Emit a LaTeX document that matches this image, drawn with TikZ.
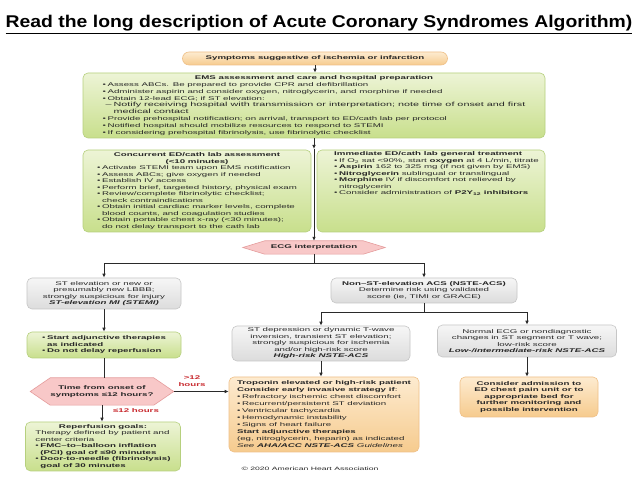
\documentclass[tikz,border=0pt]{standalone}
\usepackage{fontspec}
\setmainfont{Liberation Sans}[FakeStretch=1.8]
\newfontfamily\titlefont{Liberation Sans}[FakeStretch=1.14]
\usetikzlibrary{arrows.meta,calc,backgrounds}
\definecolor{grnT}{HTML}{EDF4D6}
\definecolor{grnB}{HTML}{C8DF8C}
\definecolor{grnD}{HTML}{B6D07E}
\definecolor{orgT}{HTML}{FDEBD0}
\definecolor{orgB}{HTML}{F6CB8E}
\definecolor{orgD}{HTML}{EFC088}
\definecolor{gryT}{HTML}{F6F6F6}
\definecolor{gryB}{HTML}{DCDCDC}
\definecolor{gryD}{HTML}{C6C6C6}
\definecolor{pnkF}{HTML}{F8C8C8}
\definecolor{pnkD}{HTML}{E59C9C}
\definecolor{redC}{HTML}{C8282D}
\definecolor{lnC}{HTML}{2A2A2A}
\definecolor{txtC}{HTML}{262626}
\newcommand\bl{\makebox[5pt][l]{\textbullet}}
\newcommand\mytab[1]{\begin{tabular}{@{}l@{}}#1\end{tabular}}
\newcommand\mycen[1]{\multicolumn{1}{@{}c@{}}{#1}}
\tikzset{
  box/.style={rounded corners=5pt, line width=0.6pt, inner sep=1pt, align=center},
  gbox/.style={box, draw=grnD, top color=grnT, bottom color=grnB},
  obox/.style={box, draw=orgD, top color=orgT, bottom color=orgB},
  gybox/.style={box, draw=gryD, top color=gryT, bottom color=gryB},
  hexs/.style={draw=pnkD, fill=pnkF, line width=0.6pt},
  arr/.style={draw=lnC, line width=0.8pt, -{Latex[length=4pt,width=3.6pt]}},
  ln/.style={draw=lnC, line width=0.8pt},
  redlab/.style={text=redC, align=center, inner sep=0pt, font=\fontsize{5.4}{6.5}\selectfont\bfseries}
}
\begin{document}
\begin{tikzpicture}[x=1pt,y=-1pt, every node/.style={font=\fontsize{5.4}{6.5}\selectfont, text=txtC}]
\useasboundingbox (0,0) rectangle (638,478);
\begin{scope}[on background layer]
\fill[white] (0,0) rectangle (638,478);
\end{scope}

\node[anchor=base, inner sep=0pt, text=black, font=\titlefont\bfseries\fontsize{17}{20}\selectfont] (title) at (319,28)
  {\underline{Read the long description of Acute Coronary Syndromes Algorithm)}};

\node[obox, rounded corners=6.5pt, minimum width=265pt, minimum height=13pt, inner sep=0pt] (sym) at (315,58.5)
  {\textbf{Symptoms suggestive of ischemia or infarction}};

\node[gbox, minimum width=462pt, minimum height=65pt, font=\fontsize{5.4}{6.8}\selectfont] (ems) at (314,105.5) {\mytab{%
\mycen{\textbf{EMS assessment and care and hospital preparation}}\\
\bl Assess ABCs. Be prepared to provide CPR and defibrillation\\
\bl Administer aspirin and consider oxygen, nitroglycerin, and morphine if needed\\
\bl Obtain 12-lead ECG; if ST elevation:\\
{\fontsize{6}{6.8}\selectfont\hspace*{3pt}\makebox[8pt][l]{--}Notify receiving hospital with transmission or interpretation; note time of onset and first}\\
{\fontsize{6}{6.8}\selectfont\hspace*{11pt}medical contact}\\
\bl Provide prehospital notification; on arrival, transport to ED/cath lab per protocol\\
\bl Notified hospital should mobilize resources to respond to STEMI\\
\bl If considering prehospital fibrinolysis, use fibrinolytic checklist}};

\node[gbox, minimum width=228pt, minimum height=82pt] (conc) at (197,191) {\mytab{%
\mycen{\textbf{Concurrent ED/cath lab assessment}}\\
\mycen{\textbf{(<10 minutes)}}\\
\bl Activate STEMI team upon EMS notification\\
\bl Assess ABCs; give oxygen if needed\\
\bl Establish IV access\\
\bl Perform brief, targeted history, physical exam\\
\bl Review/complete fibrinolytic checklist;\\
\hspace*{5pt}check contraindications\\
\bl Obtain initial cardiac marker levels, complete\\
\hspace*{5pt}blood counts, and coagulation studies\\
\bl Obtain portable chest x-ray (<30 minutes);\\
\hspace*{5pt}do not delay transport to the cath lab}};

\node[gbox, minimum width=228pt, minimum height=82pt] (imm) at (431,191) {};
\node[anchor=north west, inner sep=0pt] (immtxt) at (334,151) {\mytab{%
\textbf{Immediate ED/cath lab general treatment}\\
\bl If O\textsubscript{2} sat <90\%, start \textbf{oxygen} at 4 L/min, titrate\\
\bl \textbf{Aspirin} 162 to 325 mg (if not given by EMS)\\
\bl \textbf{Nitroglycerin} sublingual or translingual\\
\bl \textbf{Morphine} IV if discomfort not relieved by\\
\hspace*{5pt}nitroglycerin\\
\bl Consider administration of \textbf{P2Y\textsubscript{12} inhibitors}}};

% ECG interpretation
\node[minimum width=98pt, minimum height=13pt, inner sep=0pt] (ecg) at (314,247.5) {\textbf{ECG interpretation}};
\coordinate (ecgL) at ($(ecg.west)+(-22,0)$);
\coordinate (ecgR) at ($(ecg.east)+(22,0)$);

% left column
\node[gybox, minimum width=154pt, minimum height=31pt] (stemi) at (104,293.5)
  {ST elevation or new or\\ presumably new LBBB;\\ strongly suspicious for injury\\ \textbf{\textit{ST-elevation MI (STEMI)}}};
\node[gbox, minimum width=154pt, minimum height=26pt] (adj) at (104,345) {\mytab{%
\bl\textbf{Start adjunctive therapies}\\
\hspace*{5pt}\textbf{as indicated}\\
\bl\textbf{Do not delay reperfusion}}};
\node[minimum width=103pt, minimum height=27pt, inner sep=0pt, align=center] (time) at (102,391.5)
  {\textbf{Time from onset of}\\ \textbf{symptoms ≤12 hours?}};
\coordinate (timeL) at ($(time.west)+(-20,0)$);
\coordinate (timeR) at ($(time.east)+(20,0)$);
\node[gbox, minimum width=155pt, minimum height=49pt] (reperf) at (103,446.5) {\mytab{%
\mycen{\textbf{Reperfusion goals:}}\\
Therapy defined by patient and\\
center criteria\\
\bl\textbf{FMC--to--balloon inflation}\\
\hspace*{5pt}\textbf{(PCI) goal of ≤90 minutes}\\
\bl\textbf{Door-to-needle (fibrinolysis)}\\
\hspace*{5pt}\textbf{goal of 30 minutes}}};

% right part
\node[gybox, minimum width=186pt, minimum height=25pt] (nste) at (424,290.5)
  {\textbf{Non--ST-elevation ACS (NSTE-ACS)}\\ Determine risk using validated\\ score (ie, TIMI or GRACE)};
\node[gybox, minimum width=178pt, minimum height=35pt] (stdep) at (321,343.5)
  {ST depression or dynamic T-wave\\ inversion, transient ST elevation;\\ strongly suspicious for ischemia\\ and/or high-risk score\\ \textbf{\textit{High-risk NSTE-ACS}}};
\node[gybox, minimum width=179pt, minimum height=32pt] (normal) at (527,341)
  {Normal ECG or nondiagnostic\\ changes in ST segment or T wave;\\ low-risk score\\ \textbf{\textit{Low-/intermediate-risk NSTE-ACS}}};
\node[obox, minimum width=190pt, minimum height=75pt, font=\fontsize{5.4}{7}\selectfont] (trop) at (324,414.5) {\mytab{%
\textbf{Troponin elevated or high-risk patient}\\
\textbf{Consider early invasive strategy if}:\\
\bl Refractory ischemic chest discomfort\\
\bl Recurrent/persistent ST deviation\\
\bl Ventricular tachycardia\\
\bl Hemodynamic instability\\
\bl Signs of heart failure\\
\textbf{Start adjunctive therapies}\\
(eg, nitroglycerin, heparin) as indicated\\
\textit{See \textbf{AHA/ACC NSTE-ACS} Guidelines}}};
\node[obox, minimum width=138pt, minimum height=40pt] (admit) at (529,397)
  {\textbf{Consider admission to}\\ \textbf{ED chest pain unit or to}\\ \textbf{appropriate bed for}\\ \textbf{further monitoring and}\\ \textbf{possible intervention}};

\node[redlab] (gt12) at (192,381) {>12\\hours};
\node[redlab] (le12) at (136,411) {≤12 hours};
\node[font=\fontsize{4.8}{6}\selectfont] (copy) at (310,469) {© 2020 American Heart Association};

% hexagons
\begin{scope}[on background layer]
\draw[hexs] (ecgL) -- (ecg.north west) -- (ecg.north east) -- (ecgR) -- (ecg.south east) -- (ecg.south west) -- cycle;
\draw[hexs] (timeL) -- (time.north west) -- (time.north east) -- (timeR) -- (time.south east) -- (time.south west) -- cycle;
\end{scope}

% connectors
\coordinate (sp) at (314,149);
\draw[arr] (sym.south) -- (sym.south |- ems.north);
\draw[arr] (ems.south) -- (sp);
\draw[arr] (sp) -- (ecg.north);
\draw[arr] (ecg.south) -- ++(0,9) -| (stemi.north);
\draw[arr] (ecg.south) -- ++(0,9) -| (nste.north);
\draw[arr] (stemi.south) -- (adj.north);
\draw[ln] (adj.south) -- (adj.south |- time.north);
\draw[arr] (time.south) -- (time.south |- reperf.north);
\draw[arr] (timeR) -- (timeR -| trop.west);
\draw[arr] (nste.south) -- ++(0,9) -| (stdep.north);
\draw[arr] (nste.south) -- ++(0,9) -| (normal.north);
\draw[arr] (stdep.south) -- (stdep.south |- trop.north);
\draw[arr] (normal.south) -- (normal.south |- admit.north);
\end{tikzpicture}
\end{document}
